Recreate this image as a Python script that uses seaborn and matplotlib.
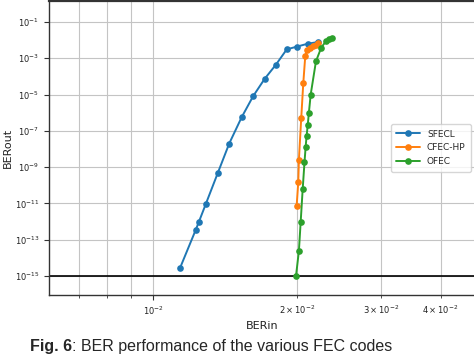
import numpy as np
import pandas as pd
import matplotlib
matplotlib.use("Agg")
import matplotlib.pyplot as plt
import matplotlib.ticker as mticker
import seaborn as sns

# ---- data ----
sfecl_x = [0.01139, 0.01229, 0.01248, 0.0129, 0.01366, 0.01444, 0.01533, 0.01621,
           0.01713, 0.01809, 0.01905, 0.02001, 0.02110, 0.02217]
sfecl_y = [2.7e-15, 3.5e-13, 9.8e-13, 9.3e-12, 4.6e-10, 2.0e-8, 5.6e-7, 8.3e-6,
           7.4e-5, 4.5e-4, 3.1e-3, 4.4e-3, 6.4e-3, 7.9e-3]

cfec_x = [0.01998, 0.02014, 0.0202, 0.02043, 0.02063, 0.02083, 0.02101, 0.0213,
          0.02162, 0.02193, 0.02214]
cfec_y = [7.2e-12, 1.5e-10, 2.5e-9, 5.2e-7, 4.2e-5, 1.35e-3, 2.9e-3, 3.7e-3,
          4.5e-3, 5.4e-3, 6.9e-3]

ofec_x = [0.01992, 0.0202, 0.02037, 0.02057, 0.02075, 0.02087, 0.02096, 0.02108,
          0.02119, 0.02138, 0.02193, 0.02249, 0.0230, 0.02334, 0.02364]
ofec_y = [1.0e-15, 2.4e-14, 8.9e-13, 5.9e-11, 1.8e-9, 1.35e-8, 5.0e-8, 2.1e-7,
          9.3e-7, 1.0e-5, 6.8e-4, 3.8e-3, 8.7e-3, 1.12e-2, 1.36e-2]

labels = ["SFECL", "CFEC-HP", "OFEC"]
ref_line = 1e-15
y_tick_values = [1e-1, 1e-3, 1e-5, 1e-7, 1e-9, 1e-11, 1e-13, 1e-15]

df = pd.concat([
    pd.DataFrame({"BERin": sfecl_x, "BERout": sfecl_y, "code": labels[0]}),
    pd.DataFrame({"BERin": cfec_x, "BERout": cfec_y, "code": labels[1]}),
    pd.DataFrame({"BERin": ofec_x, "BERout": ofec_y, "code": labels[2]}),
], ignore_index=True)

sns.set_style("ticks")
plt.rcParams["font.family"] = ["DejaVu Sans"]

W, H = 474, 355
fig = plt.figure(figsize=(W / 100, H / 100), dpi=100)
ax = fig.add_axes([49 / W, 1 - 295 / H, (475.5 - 49) / W, (294) / H])

palette = ["#1f77b4", "#ff7f0e", "#2ca02c"]
sns.lineplot(data=df, x="BERin", y="BERout", hue="code", hue_order=labels,
             palette=palette, marker="o", markersize=4.8, markeredgewidth=0,
             linewidth=1.4, sort=False, estimator=None, ax=ax, zorder=3)

ax.set_xscale("log")
ax.set_yscale("log")
ax.set_xlim(0.00606, 0.0473)
ax.set_ylim(8.9e-17, 1.44)

ax.set_yticks(y_tick_values)
ax.yaxis.set_minor_locator(mticker.NullLocator())

ax.xaxis.grid(True, which="both", color="#c4c4c4", linewidth=0.8)
ax.yaxis.grid(True, which="major", color="#c4c4c4", linewidth=0.8)
ax.set_axisbelow(True)

ax.axhline(ref_line, color="black", linewidth=1.2, zorder=2)

ax.tick_params(axis="both", which="both", labelsize=6, colors="#333333",
               labelcolor="#222222", direction="out")
ax.tick_params(axis="both", which="major", length=3.5, width=0.8)
ax.tick_params(axis="x", which="minor", length=2.5, width=0.6)

for s in ax.spines.values():
    s.set_color("#333333")
    s.set_linewidth(1.0)
ax.spines["top"].set_linewidth(1.6)

ax.set_xlabel("BERin", fontsize=8, color="#222222", labelpad=3)
ax.set_ylabel("BERout", fontsize=8, color="#222222", labelpad=1)

leg = ax.legend(loc="center right", fontsize=6.5, frameon=True,
                borderaxespad=0.5, handlelength=2.6, labelspacing=0.55,
                borderpad=0.6)
leg.get_frame().set_edgecolor("#cccccc")

# caption
cap_font = ["Liberation Sans", "DejaVu Sans"]
t1 = fig.text(30 / W, 4.0 / H, "Fig. 6", fontsize=11.5, fontweight="bold",
              family=cap_font, va="baseline", ha="left")
fig.canvas.draw()
ax.annotate(": BER performance of the various FEC codes", xy=(1, 0),
            xycoords=t1, va="bottom", ha="left", fontsize=11.5,
            family=cap_font, annotation_clip=False)

fig.savefig("out.png", dpi=100)
